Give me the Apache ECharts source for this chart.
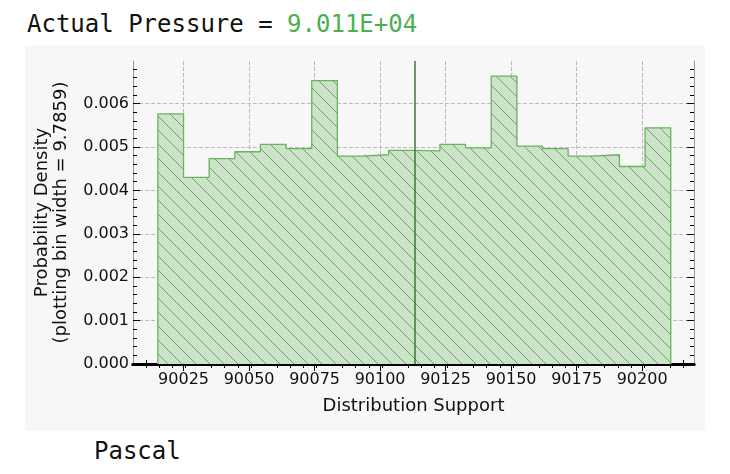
<!DOCTYPE html>
<html>
<head>
<meta charset="utf-8">
<script src="https://cdn.jsdelivr.net/npm/echarts@6/dist/echarts.min.js"></script>
<style>
	body { margin: 0; background: #fff; }
	#panel { position: absolute; left: 25px; top: 45px; width: 680px; height: 386px; background: #f7f7f7; }
	#chart { position: absolute; left: 0; top: 0; width: 730px; height: 474px; }
	.mono { position: absolute; font-family: "DejaVu Sans Mono", monospace; font-size: 24px; color: #111; }
</style>
</head>
<body>
<div id="panel"></div>
<div class="mono" style="left:27px;top:10px;">Actual Pressure = <span style="color:#4caf50">9.011E+04</span></div>
<div class="mono" style="left:94px;top:437px;">Pascal</div>
<div id="chart"></div>
<script>
	// histogram bins
	var binStart = 90015.2;
	var binWidth = 9.7859;
	var densities = [0.00576, 0.00430, 0.00473, 0.00489, 0.00506, 0.00496, 0.00653, 0.00479, 0.00482, 0.00492,
		0.00491, 0.00506, 0.00498, 0.00663, 0.00502, 0.00496, 0.00479, 0.00482, 0.00455, 0.00544];
	var actualValue = 90113.1;
	var xTicks = [90025, 90050, 90075, 90100, 90125, 90150, 90175, 90200];
	var yTicks = [0, 0.001, 0.002, 0.003, 0.004, 0.005, 0.006];

	var bins = densities.map(function (d, i) {
		return [binStart + i * binWidth, binStart + (i + 1) * binWidth, d];
	});
	// step outline of the histogram
	var outline = [[binStart, 0]];
	bins.forEach(function (b) { outline.push([b[0], b[2]], [b[1], b[2]]); });
	outline.push([bins[bins.length - 1][1], 0]);

	// hatch pattern
	var pat = document.createElement('canvas');
	pat.width = 14; pat.height = 14;
	var ctx = pat.getContext('2d');
	ctx.fillStyle = '#cde3c9';
	ctx.fillRect(0, 0, 14, 14);
	ctx.strokeStyle = '#62ab58';
	ctx.lineWidth = 1;
	ctx.beginPath();
	ctx.moveTo(-1, -1); ctx.lineTo(15, 15);
	ctx.stroke();

	var chart = echarts.init(document.getElementById('chart'));
	var font = 'DejaVu Sans';
	var xMin = 90005.7, xMax = 90219.8;

	function xAx(pos, labels) {
		return {
			type: 'value', position: pos, min: xMin, max: xMax,
			interval: 25,
			axisLine: { lineStyle: { color: '#000', width: 3 } },
			axisTick: { inside: true, length: 7, lineStyle: { color: '#000' }, customValues: xTicks },
			minorTick: { show: true, splitNumber: 5, length: 4, lineStyle: { color: '#000' } },
			axisLabel: { show: labels, customValues: xTicks, formatter: function (v) { return String(v); },
				color: '#111', fontFamily: font, fontSize: 16, margin: 8 },
			splitLine: { show: labels, customValues: xTicks, lineStyle: { color: '#bbb', type: 'dashed' } },
			name: labels ? 'Distribution Support' : '', nameLocation: 'middle', nameGap: 33,
			nameTextStyle: { color: '#111', fontFamily: font, fontSize: 18 }
		};
	}
	function yAx(pos, labels) {
		return {
			type: 'value', position: pos, min: 0, max: 0.00698, interval: 0.001,
			axisLine: { show: true, lineStyle: { color: '#999', width: 1 } },
			axisTick: { inside: true, length: 7, lineStyle: { color: '#000' }, customValues: yTicks },
			minorTick: { show: true, splitNumber: 5, length: 4, lineStyle: { color: '#000' } },
			axisLabel: { show: labels, customValues: yTicks,
				formatter: function (v) { return v.toFixed(3); }, color: '#111', fontFamily: font, fontSize: 16, margin: 4 },
			splitLine: { show: labels, lineStyle: { color: '#bbb', type: 'dashed' } },
			name: labels ? 'Probability Density\n(plotting bin width = 9.7859)' : '', nameLocation: 'middle', nameGap: 62,
			nameTextStyle: { color: '#111', fontFamily: font, fontSize: 18, lineHeight: 19 }
		};
	}

	chart.setOption({
		animation: false,
		grid: { left: 133, right: 36, top: 61, bottom: 110, show: true, backgroundColor: '#f7f7f7', borderWidth: 0 },
		xAxis: [xAx('bottom', true), xAx('top', false)],
		yAxis: [yAx('left', true), yAx('right', false)],
		series: [{
			type: 'custom',
			data: bins,
			encode: { x: [0, 1], y: 2 },
			renderItem: function (params, api) {
				var p0 = api.coord([api.value(0), api.value(2)]);
				var p1 = api.coord([api.value(1), 0]);
				return {
					type: 'rect',
					shape: { x: p0[0] - 0.3, y: p0[1], width: p1[0] - p0[0] + 0.6, height: p1[1] - p0[1] },
					style: { fill: { image: pat, repeat: 'repeat' }, lineWidth: 0 }
				};
			},
			markLine: {
				silent: true, symbol: 'none', label: { show: false },
				lineStyle: { color: '#3d7a35', type: 'solid', width: 1.5 },
				data: [{ xAxis: actualValue }]
			}
		}, {
			type: 'line',
			data: outline,
			symbol: 'none',
			silent: true,
			lineStyle: { color: '#6ab460', width: 1.3 }
		}]
	});
</script>
</body>
</html>
